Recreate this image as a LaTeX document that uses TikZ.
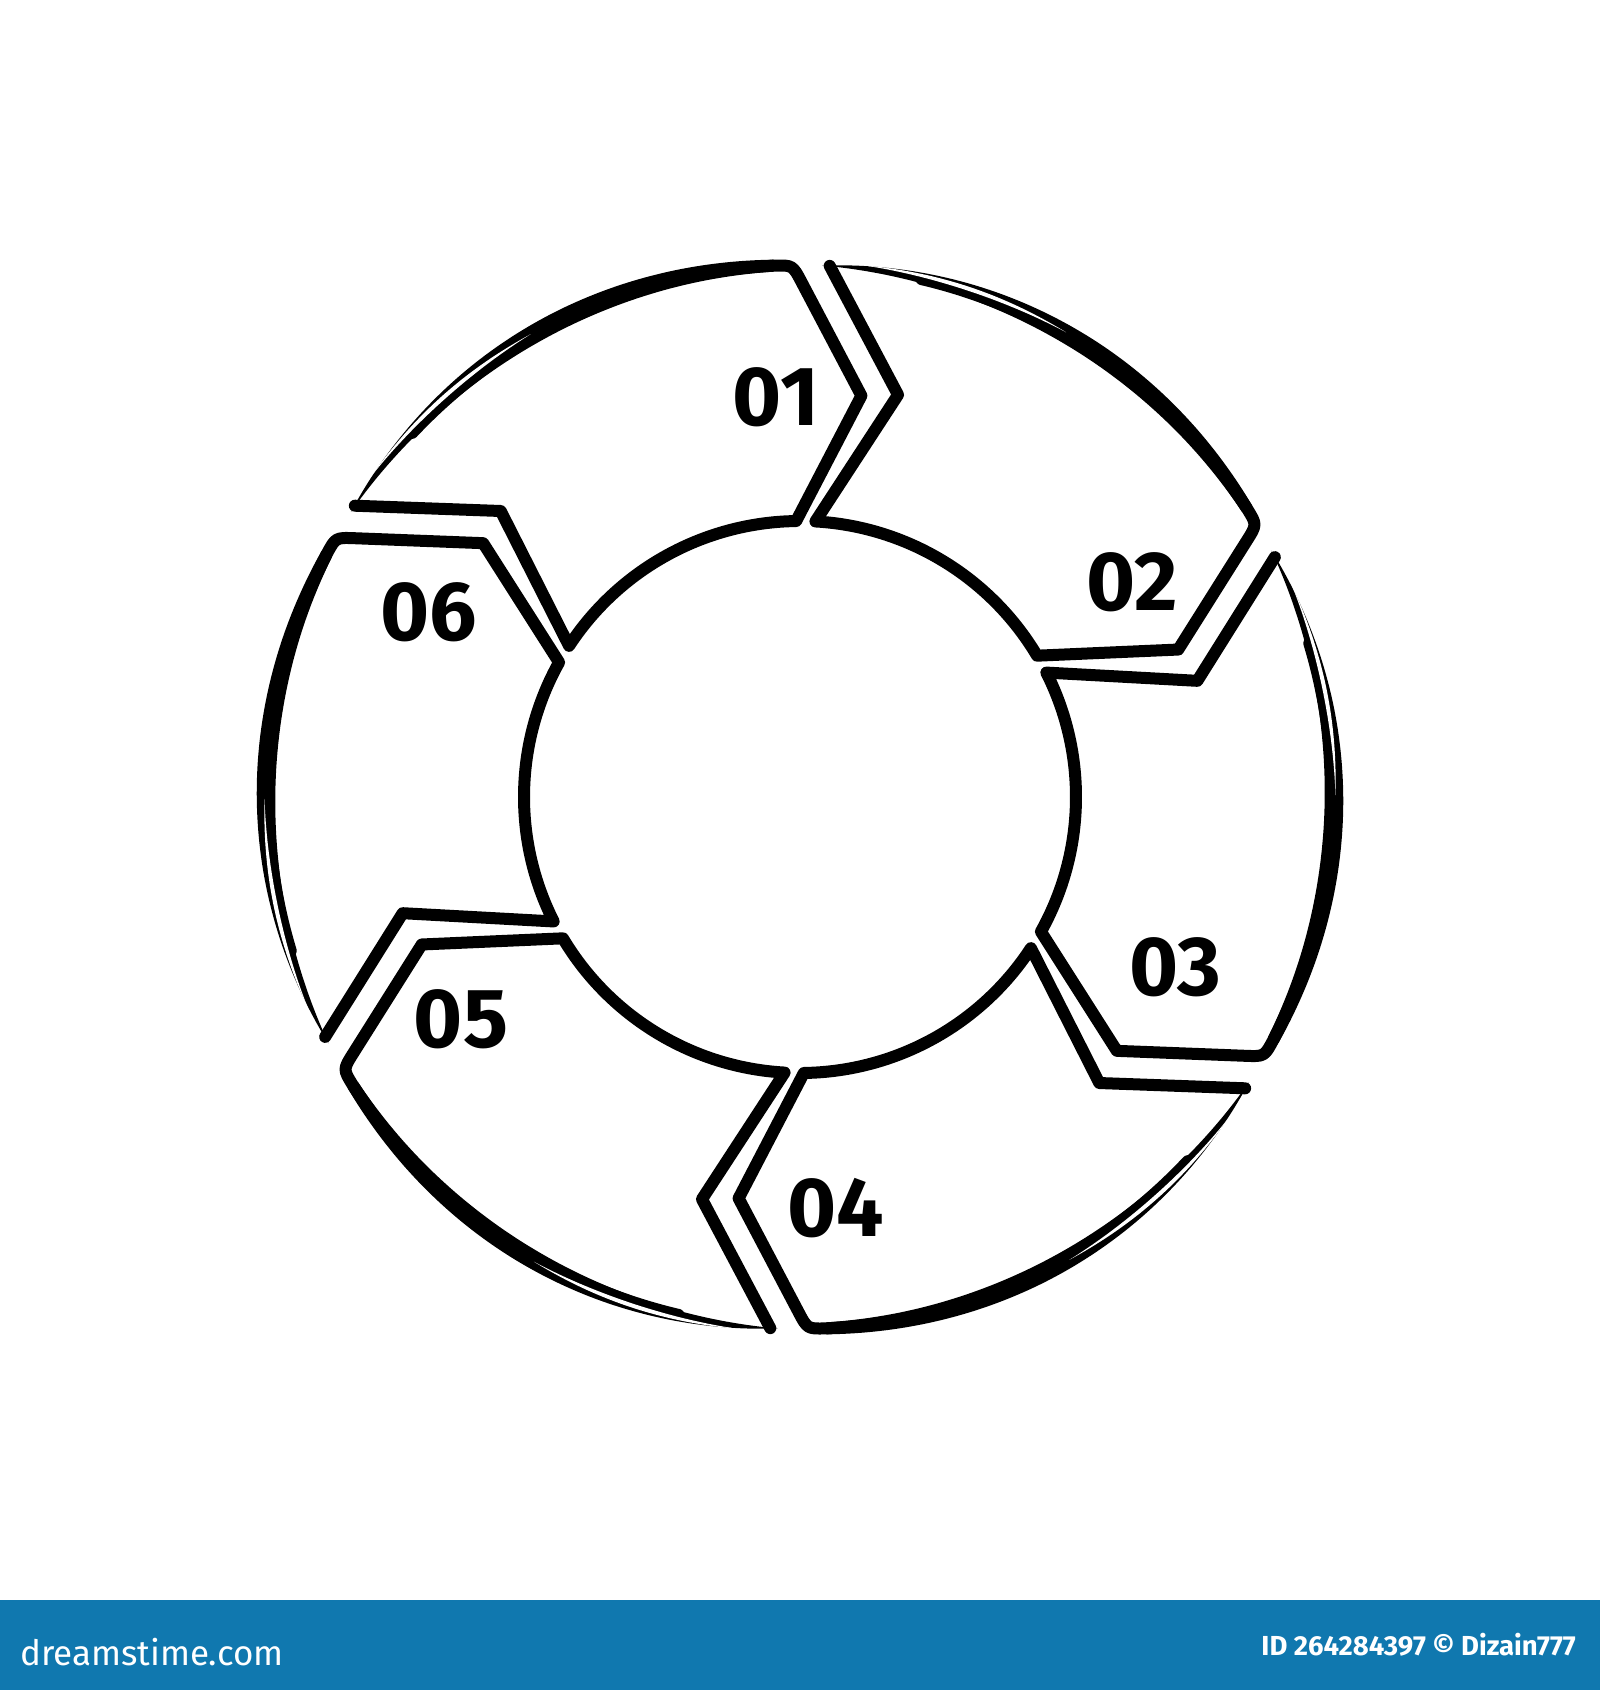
\documentclass[tikz,border=0pt]{standalone}
\usepackage{fontspec}
\setmainfont{Fira Sans}
\usetikzlibrary{calc}
\definecolor{bannerblue}{HTML}{1078AF}
\begin{document}
\begin{tikzpicture}[x=1pt,y=1pt,
  segline/.style={line width=12pt,line join=round,line cap=round},
  numlabel/.style={font=\fontsize{84}{90}\selectfont\bfseries,inner sep=0pt,text=black},
  bannertext/.style={text=white,inner sep=0pt}]
\useasboundingbox (0,0) rectangle (1600,-1690);
\fill[white] (0,0) rectangle (1600,-1690);
\fill[bannerblue] (0,-1600) rectangle (1600,-1690);
\begin{scope}[shift={(800,-797)}]
\foreach \k in {0,...,5}{
  \pgfmathsetmacro{\aH}{90.8-60*\k}
  \pgfmathsetmacro{\aP}{\aH-9.5}
  \pgfmathsetmacro{\aT}{\aH+56}
  \pgfmathsetmacro{\aN}{\aH+45.5}
  \pgfmathsetmacro{\aC}{\aH+2}
  \pgfmathsetmacro{\aE}{\aH+46}
  \draw[segline] (\aT:532) -- (\aN:414) -- (\aT:276)
    arc[start angle=\aT,end angle=\aH,radius=276]
    -- (\aP:406) -- ($(\aH:532)!0.13!(\aP:406)$)
    .. controls (\aH:532) .. (\aC:532)
    arc[start angle=\aC,end angle=\aE,radius=532];
  \fill plot[domain=0:1,samples=60,smooth] ({\aC+54.8*\x}:{538+6*sin(180*\x)-6*\x^3})
     -- plot[domain=1:0,samples=60,smooth] ({\aC+54.8*\x}:{526+6*\x^3-2*sin(180*\x)}) -- cycle;
  \fill[white] plot[domain=0:1,samples=30,smooth] ({\aC+54.8*(0.5+0.42*\x)}:{535.5+2*sin(180*\x)})
     -- plot[domain=1:0,samples=30,smooth] ({\aC+54.8*(0.5+0.42*\x)}:{535.5-2*sin(180*\x)}) -- cycle;
}
\end{scope}
\node[numlabel] (n1) at (776,-397) {01};
\node[numlabel] (n2) at (1132,-582) {02};
\node[numlabel] (n3) at (1175,-967) {03};
\node[numlabel] (n4) at (836,-1208) {04};
\node[numlabel] (n5) at (461,-1019) {05};
\node[numlabel] (n6) at (429,-612) {06};
\node[bannertext,anchor=west,font=\fontsize{35}{40}\selectfont] (brand) at (20,-1652) {dreamstime.com};
\node[bannertext,anchor=east,font=\fontsize{27.5}{30}\selectfont\bfseries] (credit) at (1576,-1645) {ID 264284397 © Dizain777};
\end{tikzpicture}
\end{document}
